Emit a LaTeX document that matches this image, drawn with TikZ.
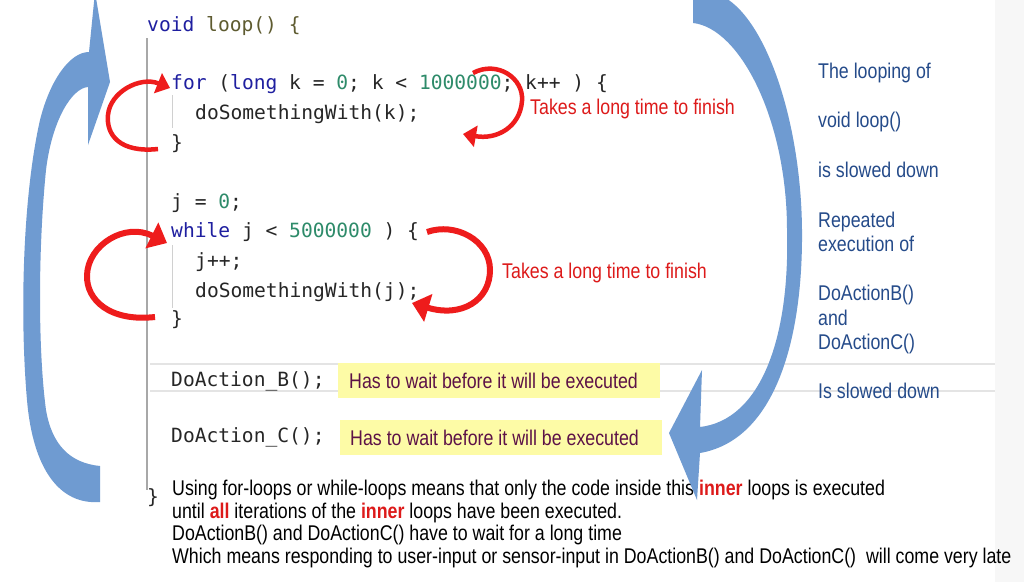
\documentclass[tikz,border=0pt]{standalone}
\usepackage{fontspec}
\setmainfont{Liberation Sans}
\newfontfamily\nar[FakeStretch=0.835]{Liberation Sans}
\newfontfamily\cod{DejaVu Sans Mono}
\usetikzlibrary{arrows.meta}
\definecolor{bluearrow}{HTML}{6F9BD1}
\definecolor{loopred}{HTML}{EE1C1C}
\definecolor{redtxt}{HTML}{DD1A1A}
\definecolor{bluetxt}{HTML}{254B8A}
\definecolor{yfill}{HTML}{FDFBA6}
\definecolor{ytxt}{HTML}{5C1247}
\definecolor{kw}{HTML}{1F1FA0}
\definecolor{fn}{HTML}{5E5B30}
\definecolor{num}{HTML}{2E8B6A}
\definecolor{codeplain}{HTML}{262626}
\definecolor{guide}{HTML}{A8A8A8}
\definecolor{faint}{HTML}{E4E4E4}
\definecolor{sidebg}{HTML}{F7F7F7}
\newcommand{\kwd}[1]{\textcolor{kw}{#1}}
\newcommand{\nmb}[1]{\textcolor{num}{#1}}
\newcommand{\rbf}[1]{\textcolor{redtxt}{\textbf{#1}}}
\tikzset{
  codetxt/.style={anchor=base west, inner sep=0pt, text=codeplain,
    font=\cod\fontsize{19.6}{22}\selectfont},
  nartxt/.style={anchor=base west, inner sep=0pt,
    font=\nar\fontsize{21.3}{22.7}\selectfont},
  sidetxt/.style={nartxt, text=bluetxt},
  notetxt/.style={nartxt, text=redtxt},
  bottxt/.style={nartxt, text=black},
  waittxt/.style={nartxt, text=ytxt},
  ybox/.style={anchor=north west, fill=yfill, draw=none,
    minimum width=322pt, minimum height=35pt, inner sep=0pt},
  redloop/.style={draw=loopred, line width=4.5pt,
    -{Triangle[length=13pt,width=21pt]}},
  redloopbig/.style={draw=loopred, line width=6pt,
    -{Triangle[length=17pt,width=28pt]}},
  bluearr/.style={fill=bluearrow, draw=none},
  faintline/.style={draw=faint, line width=2pt},
}
\begin{document}
\begin{tikzpicture}[x=1pt,y=-1pt]
\useasboundingbox (0,0) rectangle (1024,582);
\clip (0,0) rectangle (1024,582);
\fill[white] (0,0) rectangle (1024,582);
\fill[sidebg] (995,0) rectangle (1024,582);

% editor guide lines
\draw[faintline] (150,364) -- (995,364);
\draw[faintline] (150,391) -- (995,391);
\draw[draw=guide, line width=1.5pt] (147,38) -- (147,490);
\draw[draw=faint!80!gray, line width=1pt] (172,95) -- (172,128);
\draw[draw=faint!80!gray, line width=1pt] (172,245) -- (172,308);

% code
\node[codetxt] (l1) at (147,31) {\kwd{void} \textcolor{fn}{loop() \{}};
\node[codetxt] (l2) at (171,89) {\kwd{for} (\kwd{long} k = \nmb{0}; k < \nmb{1000000}; k++ ) \{};
\node[codetxt] (l3) at (195,119) {doSomethingWith(k);};
\node[codetxt] (l4) at (171,149) {\}};
\node[codetxt] (l5) at (171,208) {j = \nmb{0};};
\node[codetxt] (l6) at (171,237) {\kwd{while} j < \nmb{5000000} ) \{};
\node[codetxt] (l7) at (195,267) {j++;};
\node[codetxt] (l8) at (195,297) {doSomethingWith(j);};
\node[codetxt] (l9) at (171,325) {\}};
\node[codetxt] (l10) at (171,386) {DoAction\_B();};
\node[codetxt] (l11) at (171,442) {DoAction\_C();};
\node[codetxt] (l12) at (147,503) {\}};

% yellow notes
\node[ybox] (wb) at (338,363) {};
\node[ybox] (wc) at (340,420) {};
\node[waittxt] (wbt) at (349,388.5) {Has to wait before it will be executed};
\node[waittxt] (wct) at (350,445) {Has to wait before it will be executed};

% red notes
\node[notetxt] (t1) at (530,114) {Takes a long time to finish};
\node[notetxt] (t2) at (502,278) {Takes a long time to finish};

% side text
\node[sidetxt] (s1) at (818,78) {The looping of};
\node[sidetxt] (s2) at (818,127) {void loop()};
\node[sidetxt] (s3) at (818,177) {is slowed down};
\node[sidetxt] (s4) at (818,227) {Repeated};
\node[sidetxt] (s5) at (818,251.5) {execution of};
\node[sidetxt] (s6) at (818,300) {DoActionB()};
\node[sidetxt] (s7) at (818,325) {and};
\node[sidetxt] (s8) at (818,349.5) {DoActionC()};
\node[sidetxt] (s9) at (818,398.5) {Is slowed down};

% bottom explanation
\node[bottxt] (b1) at (172,495) {Using for-loops or while-loops means that only the code inside this \rbf{inner} loops is executed};
\node[bottxt] (b2) at (172,518) {until \rbf{all} iterations of the \rbf{inner} loops have been executed.};
\node[bottxt] (b3) at (172,540) {DoActionB() and DoActionC() have to wait for a long time};
\node[bottxt] (b4) at (172,563) {Which means responding to user-input or sensor-input in DoActionB() and DoActionC()\ \ will come very late};

% red loop arrows
\coordinate (fa1) at (158,149);
\coordinate (fa2) at (170,88);
\coordinate (fb1) at (473,73);
\coordinate (fb2) at (463,134);
\coordinate (wa1) at (155,317);
\coordinate (wa2) at (167,243);
\coordinate (wb1) at (427,232);
\coordinate (wb2) at (412,303);
\draw[redloop] (fa1) .. controls (120,153) and (106,135) .. (108,115)
  .. controls (110,92) and (140,76) .. (fa2);
\draw[redloop] (fb1) .. controls (497,60) and (524,78) .. (522,101)
  .. controls (520,127) and (497,140) .. (fb2);
\draw[redloopbig] (wa1) .. controls (110,322) and (86,300) .. (87,275)
  .. controls (88,245) and (125,222) .. (wa2);
\draw[redloopbig] (wb1) .. controls (455,222) and (490,240) .. (490,270)
  .. controls (490,300) and (462,318) .. (wb2);

% big blue arrows
\fill[bluearr] (100,502) .. controls (60,505) and (33,470) .. (27,400)
  .. controls (20,320) and (22,200) .. (40,120)
  .. controls (50,80) and (70,52) .. (89,52)
  -- (95,-8) -- (110,82) -- (88,145) -- (88,87)
  .. controls (72,88) and (52,120) .. (46,170)
  .. controls (38,250) and (38,350) .. (46,410)
  .. controls (52,445) and (70,463) .. (100,466) -- cycle;
\fill[bluearr] (693,-5) -- (693,23)
  .. controls (740,28) and (787,120) .. (787,230)
  .. controls (790,340) and (760,420) .. (700,427)
  -- (702,370) -- (669,433) -- (697,500) -- (700,453)
  .. controls (775,440) and (803,340) .. (802,230)
  .. controls (801,120) and (765,15) .. (720,-5) -- cycle;
\end{tikzpicture}
\end{document}
